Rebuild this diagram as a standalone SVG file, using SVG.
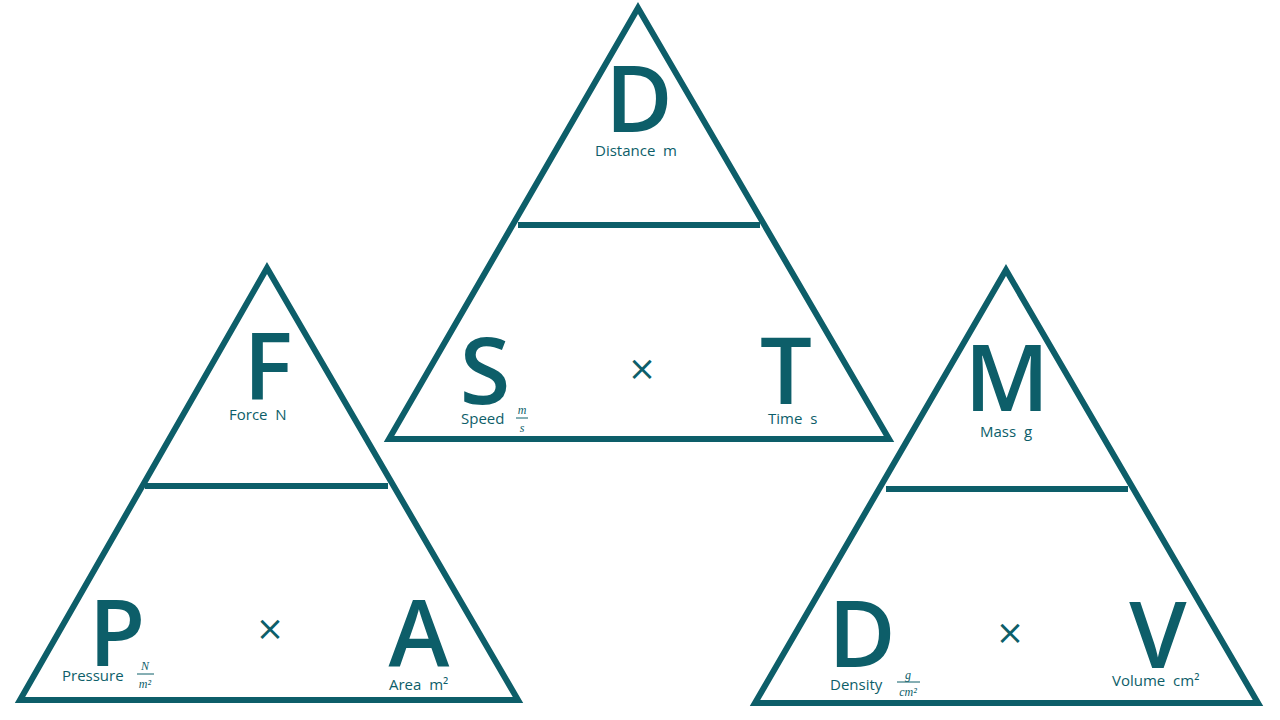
<svg xmlns="http://www.w3.org/2000/svg" width="1280" height="720" viewBox="0 0 1280 720">
<style>
.t{fill:none;stroke:#0d5e69;stroke-width:6;stroke-linejoin:miter}
.big{font-family:"Open Sans",sans-serif;font-weight:600;font-size:92px;fill:#0d5e69;text-anchor:middle}
.sm{font-family:"Open Sans",sans-serif;font-size:15px;fill:#0d5e69;white-space:pre}
.fr{font-family:"Liberation Serif",serif;font-style:italic;font-size:12px;fill:#0d5e69;text-anchor:middle}
.x{font-family:"DejaVu Sans",sans-serif;font-size:34px;fill:#0d5e69;text-anchor:middle}
</style>
<rect width="1280" height="720" fill="#fff"/>
<g id="top">
<path class="t" d="M638,8 L889,439 L389,439 Z M518,225 L760,225"/>
<text class="big" x="639" y="132">D</text>
<text class="sm" x="595" y="156" xml:space="preserve">Distance  m</text>
<text class="big" x="485" y="404">S</text>
<text class="sm" x="461" y="424">Speed</text>
<text class="fr" x="522" y="414">m</text><line x1="516" y1="418" x2="528" y2="418" stroke="#0d5e69" stroke-width="1"/><text class="fr" x="522" y="432">s</text>
<text class="x" x="642" y="380">×</text>
<text class="big" x="786" y="404">T</text>
<text class="sm" x="768" y="424" xml:space="preserve">Time  s</text>
</g>
<g id="left">
<path class="t" d="M267,268 L518,700 L20,700 Z M145,486 L388,486"/>
<text class="big" x="268" y="399">F</text>
<text class="sm" x="229" y="420" xml:space="preserve">Force  N</text>
<text class="big" x="117" y="666">P</text>
<text class="sm" x="62" y="681">Pressure</text>
<text class="fr" x="145" y="670">N</text><line x1="137" y1="674" x2="154" y2="674" stroke="#0d5e69" stroke-width="1"/><text class="fr" x="145" y="688">m²</text>
<text class="x" x="270" y="640">×</text>
<text class="big" x="419" y="666">A</text>
<text class="sm" x="389" y="690" xml:space="preserve">Area  m²</text>
</g>
<g id="right">
<path class="t" d="M1006,270 L1258,703 L755,703 Z M886,489 L1128,489"/>
<text class="big" x="1007" y="411">M</text>
<text class="sm" x="980" y="437" xml:space="preserve">Mass  g</text>
<text class="big" x="862" y="667">D</text>
<text class="sm" x="830" y="690">Density</text>
<text class="fr" x="908" y="679">g</text><line x1="897" y1="682" x2="920" y2="682" stroke="#0d5e69" stroke-width="1"/><text class="fr" x="908" y="696">cm²</text>
<text class="x" x="1010" y="644">×</text>
<text class="big" x="1158" y="668">V</text>
<text class="sm" x="1112" y="686" xml:space="preserve">Volume  cm²</text>
</g>
</svg>
